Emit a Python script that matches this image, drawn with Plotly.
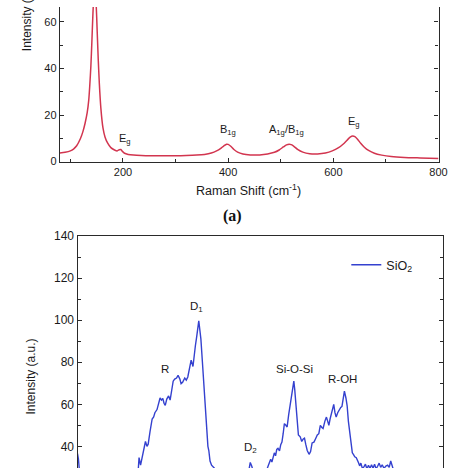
import plotly.graph_objects as go

# ---- Panel (a): Raman spectrum (red) ----
raman_x = [80, 90, 100, 106, 112, 119, 124, 128, 132, 135, 137, 139, 141, 143, 145,
           147, 149, 151, 153, 155, 158, 162, 166, 171, 177, 184, 189, 193, 196, 199,
           203, 210, 220, 235, 255, 280, 300, 320, 340, 355, 368, 378, 386, 392, 397,
           400, 405, 411, 418, 428, 442, 460, 475, 488, 497, 505, 511, 516, 520, 525,
           532, 542, 555, 570, 585, 598, 610, 619, 626, 632, 637, 641, 646, 652, 659,
           667, 678, 692, 710, 735, 765, 800]
raman_y = [3.7, 4.0, 4.6, 5.4, 6.8, 9.8, 13.0, 16.5, 21.0, 26.5, 33.0, 41.0, 52.0, 64.0, 72.0,
           74.0, 68.0, 56.0, 44.0, 34.0, 23.0, 14.5, 10.5, 7.9, 6.0, 5.0, 4.6, 5.1, 5.2, 4.4,
           3.6, 3.1, 2.8, 2.6, 2.5, 2.5, 2.5, 2.6, 2.8, 3.1, 3.7, 4.6, 5.7, 6.8, 7.5,
           7.4, 6.6, 5.2, 4.1, 3.3, 2.9, 2.9, 3.3, 4.0, 5.0, 6.3, 7.2, 7.5, 7.3, 6.6,
           5.3, 4.1, 3.4, 3.3, 3.7, 4.6, 6.0, 7.6, 9.2, 10.5, 11.0, 10.7, 9.6, 7.9, 6.2,
           4.8, 3.6, 2.8, 2.2, 1.8, 1.6, 1.4]

# ---- Panel (b): SiO2 spectrum (blue) ----
sio2_x = [100, 103, 106, 112, 150, 200, 250, 290, 299, 302, 307, 313, 318, 323, 328, 332,
          338, 345, 350, 354, 361, 366, 371, 376, 380, 384, 388, 393, 399, 404, 409, 414,
          419, 425, 430, 436, 440, 445, 452, 457, 462, 468, 473, 479, 483, 487, 491, 494,
          498, 501, 505, 510, 516, 521, 524, 528, 531, 535, 540, 560, 620, 660, 663, 667,
          672, 677, 700, 719, 726, 730, 734, 738, 742, 746, 750, 754, 758, 763, 767, 771,
          775, 779, 784, 788, 793, 799, 803, 807, 810, 813, 817, 821, 825, 831, 836, 841,
          845, 849, 854, 860, 865, 870, 876, 881, 887, 892, 897, 902, 906, 912, 917, 921,
          925, 929, 933, 937, 941, 945, 949, 954, 960, 964, 968, 972, 976, 981, 985, 989,
          993, 997, 1002, 1006, 1010, 1015, 1019, 1022, 1026, 1030, 1035, 1040, 1045, 1050,
          1055, 1060, 1065, 1070, 1075, 1080, 1085, 1090, 1095, 1100, 1106, 1112, 1118,
          1123, 1128, 1133, 1138, 1145, 1200, 1300]
sio2_y = [36.5, 34.0, 29.0, 24.0, 22.0, 23.0, 24.0, 25.0, 28.0, 34.6, 31.0, 36.0, 40.0, 42.3, 40.0, 41.0,
          47.0, 53.0, 54.0, 56.0, 57.5, 60.0, 63.0, 62.0, 62.8, 60.5, 59.5, 62.5, 64.0, 62.0, 67.0, 71.0,
          72.0, 72.5, 73.8, 72.0, 69.8, 70.5, 72.5, 71.5, 73.0, 78.5, 81.0, 78.0, 84.0, 88.0, 92.0, 97.0,
          99.7, 96.0, 91.0, 80.0, 65.0, 52.0, 44.0, 40.0, 38.0, 33.0, 31.0, 28.0, 26.0, 27.0, 29.0, 32.3,
          30.5, 28.0, 26.5, 28.0, 30.7, 32.0, 33.8, 32.5, 34.5, 36.9, 35.5, 38.5, 39.0, 37.8, 40.8, 42.0,
          46.0, 50.8, 50.0, 49.2, 55.0, 60.8, 65.0, 69.0, 71.0, 67.0, 60.8, 52.0, 45.4, 44.5, 42.3, 43.5,
          43.9, 41.0, 38.0, 36.2, 37.5, 41.6, 42.0, 43.5, 45.4, 46.0, 50.0, 49.0, 48.5, 52.0, 53.9, 52.0,
          50.0, 53.0, 55.5, 58.0, 60.0, 56.0, 53.9, 56.0, 57.8, 58.5, 59.0, 63.0, 66.3, 63.0, 59.3, 52.0,
          47.0, 41.0, 36.9, 36.0, 35.0, 34.6, 33.5, 32.3, 30.7, 32.0, 29.5, 30.2, 31.5, 29.2,
          31.0, 29.5, 31.2, 29.6, 31.5, 29.3, 30.5, 32.0, 30.0, 31.2, 29.5, 30.6, 31.0,
          30.0, 33.0, 30.5, 27.0, 25.0, 25.0, 24.0]

RED = "#d2354f"
BLUE = "#3441cf"
AX = "#2a2a2a"
FONT = "Liberation Sans, Arial, sans-serif"

fig = go.Figure()
fig.add_trace(go.Scatter(x=raman_x, y=raman_y, mode="lines", line=dict(color=RED, width=1.5, shape="spline", smoothing=0.6),
                         xaxis="x", yaxis="y", showlegend=False, hoverinfo="skip"))
fig.add_trace(go.Scatter(x=sio2_x, y=sio2_y, mode="lines", name="SiO<sub>2</sub>",
                         line=dict(color=BLUE, width=1.4),
                         xaxis="x2", yaxis="y2", showlegend=True, hoverinfo="skip"))

W = 474.0
def px(v):
    return v / W
def py(v):
    return (W - v) / W

axis_common = dict(showline=True, linecolor=AX, linewidth=1.1, ticks="inside", tickcolor=AX,
                   ticklen=4, showgrid=False, zeroline=False,
                   tickfont=dict(family=FONT, size=11, color="#1a1a1a"))

fig.update_layout(
    width=474, height=474,
    margin=dict(l=0, r=0, t=0, b=0),
    paper_bgcolor="white", plot_bgcolor="white",
    font=dict(family=FONT, color="#1a1a1a"),
    xaxis=dict(domain=[px(61), px(447)], range=[80, 800], anchor="y",
               tickvals=[200, 400, 600, 800],
               minor=dict(tickvals=[100, 300, 500, 700], ticks="inside", ticklen=3, tickcolor=AX),
               **axis_common),
    yaxis=dict(domain=[py(159), 1.0], range=[0, 66.4], anchor="x", mirror="ticks",
               tickvals=[0, 20, 40, 60],
               minor=dict(tickvals=[10, 30, 50], ticks="inside", ticklen=3, tickcolor=AX),
               **axis_common),
    xaxis2=dict(domain=[px(79), px(451.7)], range=[100, 1300], anchor="y2", side="top",
                showline=True, linecolor=AX, linewidth=1.1, showticklabels=False, ticks="",
                showgrid=False, zeroline=False),
    yaxis2=dict(domain=[0.0, py(235.7)], range=[29.68, 140], anchor="x2", mirror="ticks",
                tickvals=[40, 60, 80, 100, 120, 140],
                minor=dict(tickvals=[50, 70, 90, 110, 130], ticks="inside", ticklen=3, tickcolor=AX),
                **{**axis_common, "tickfont": dict(family=FONT, size=12, color="#1a1a1a")}),
    legend=dict(x=px(353), y=py(250), xanchor="left", yanchor="top",
                bgcolor="rgba(0,0,0,0)", font=dict(family=FONT, size=12.5, color="#1a1a1a"),
                itemwidth=30, tracegroupgap=0),
)

ann = []
def A(text, x, y, size=11, **kw):
    d = dict(text=text, x=px(x), y=py(y), xref="paper", yref="paper", showarrow=False,
             font=dict(family=FONT, size=size, color="#1a1a1a"), xanchor="center", yanchor="middle")
    d.update(kw)
    ann.append(d)

# panel (a) labels
A("E<sub>g</sub>", 127, 136)
A("B<sub>1g</sub>", 232, 126)
A("A<sub>1g</sub>/B<sub>1g</sub>", 292, 126)
A("E<sub>g</sub>", 361, 118)
A("Raman Shift (cm<sup>-1</sup>)", 253, 188, size=12.5)
A("Intensity (a.u.)", 27, 47, size=12, textangle=-90, yanchor="bottom")
A("<b>(a)</b>", 237, 215, font=dict(family="Liberation Serif, Times New Roman, serif", size=16, color="#111"))
# panel (b) labels
A("R", 168, 372, size=11.5)
A("D<sub>1</sub>", 200, 308, size=11.5)
A("D<sub>2</sub>", 255, 453, size=11.5)
A("Si-O-Si", 300, 372, size=11.5)
A("R-OH", 349, 382, size=11.5)
A("Intensity (a.u.)", 31.5, 380, size=12, textangle=-90)

fig.update_layout(annotations=ann)
fig.write_html("out.html")
